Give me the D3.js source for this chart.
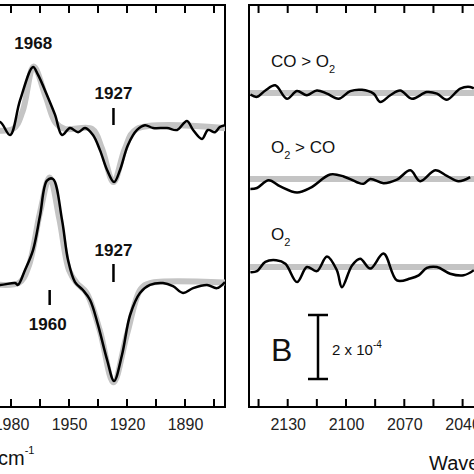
<!DOCTYPE html>
<html><head><meta charset="utf-8">
<script src="https://cdn.jsdelivr.net/npm/d3@7"></script>
<style>body{margin:0;background:#fff}svg{display:block}text{font-family:"Liberation Sans",Arial,sans-serif}</style>
</head><body><div id="chart"></div>
<script>
// values in units of 1e-4 relative to each trace baseline
const leftTop = [[1990,0.1],[1985.7,0.22],[1980.5,-0.19],[1975.3,0.9],[1968.6,1.94],[1966,1.69],[1961.4,1.06],[1957.2,0.44],[1953.6,-0.19],[1949.5,0.03],[1945.3,-0.1],[1941.7,0.03],[1937.6,-0.19],[1934,-0.66],[1930.3,-1.28],[1926.7,-1.66],[1923.6,-1.28],[1919.5,-0.5],[1914.8,-0.03],[1910.7,0.12],[1906.5,0.03],[1899.3,0.03],[1894.1,-0.03],[1889,0.25],[1885.8,-0.03],[1881.2,-0.31],[1878.1,-0.03],[1874.5,-0.1],[1872,0.06],[1869.3,0.12]];
const leftBottom = [[1990,0],[1985.7,-0.06],[1977.9,0],[1976.4,-0.06],[1972.8,0.4],[1968.6,1.03],[1965,2.1],[1961.4,3.2],[1958.3,3.25],[1953.6,1.97],[1950.5,0.72],[1946.9,0.03],[1942.8,-0.22],[1939.1,-0.53],[1935,-1.31],[1930.3,-2.4],[1926.7,-3.06],[1922.6,-2.25],[1918.4,-1.0],[1913.3,-0.31],[1908.1,-0.06],[1901.4,0],[1896.2,-0.1],[1891,-0.31],[1885.8,-0.16],[1878.6,-0.06],[1873.5,-0.16],[1869.3,0.03]];
const fitTop = [[1995,0],[1979,0],[1974,0.55],[1968.3,1.95],[1962,1.0],[1957,0.2],[1952,0],[1938,0],[1933,-0.6],[1927,-1.66],[1921,-0.6],[1915,0],[1865,0]];
const fitBottom = [[1995,0],[1976,0],[1971,0.5],[1965,2.2],[1960,3.3],[1955,2.0],[1950,0.4],[1946,0],[1941,-0.3],[1934,-1.5],[1927,-3.1],[1920,-1.6],[1913,-0.2],[1908,0],[1865,0]];
const rightWn = [2149.2,2145.8,2141.5,2136.4,2130.4,2125.2,2120.1,2115,2109.8,2103.8,2097.8,2091.8,2085.8,2082.4,2077.2,2072.1,2066.1,2058.4,2053.2,2048.1,2041.2,2036.1,2034.2];
const coO2 = [-0.05,-0.12,0.08,0.24,-0.18,0.06,-0.07,0.08,-0.02,-0.18,0.06,0.1,-0.02,-0.28,-0.07,0.08,-0.18,0.03,-0.02,-0.21,0.14,0.19,0.14];
const o2coWn = [2149.2,2145.8,2139.8,2133.8,2125.2,2118.4,2108.1,2101.2,2094.4,2091,2087.5,2080.7,2073.8,2066.9,2061.8,2054.1,2048.1,2042.1,2036.1];
const o2co = [-0.31,-0.28,-0.04,-0.23,-0.42,-0.28,0.14,0.08,-0.1,-0.15,0,-0.13,-0.02,0.27,-0.07,0.27,0.1,-0.07,0.06];
const o2Wn = [2149.2,2145.8,2141.5,2135.9,2131.2,2125.2,2120.1,2115,2109.8,2104.7,2102.1,2096.9,2092.7,2087.5,2080.7,2073.8,2066.9,2062.6,2058.4,2053.2,2046.4,2039.5,2034.2];
const o2 = [-0.16,-0.13,0.16,0.21,0.1,-0.47,0,-0.13,0.33,-0.1,-0.63,0.05,0.26,-0.05,0.42,-0.42,-0.36,-0.26,-0.03,0,-0.21,-0.26,-0.1];
const leftTicks = [1980,1950,1920,1890];
const rightTicks = [2130,2100,2070,2040];

const W = 474, H = 474, pTop = 5, pBot = 407;
const svg = d3.select('#chart').append('svg').attr('width', W).attr('height', H);
const y = d3.scaleLinear().domain([0, (pBot - pTop) / 32]).range([pBot, pTop]);
const xL = d3.scaleLinear().domain([1980, 1890]).range([11, 185]);
const xR = d3.scaleLinear().domain([2130, 2040]).range([287.7, 462.6]);

function panel(x, x0, x1, ticks) {
    svg.append('rect').attr('x', x0).attr('y', pTop).attr('width', x1 - x0).attr('height', pBot - pTop)
    .attr('fill', 'none').attr('stroke', '#000').attr('stroke-width', 2);
    const minor = d3.range(ticks[0] + 60, ticks[3] - 60, -15).filter(v => x(v) > x0 + 2 && x(v) < x1 - 2);
    svg.append('g').attr('transform', `translate(0,${pBot})`)
    .call(d3.axisBottom(x).tickValues(minor).tickSize(0).tickPadding(12).tickFormat(v => ticks.includes(v) ? v : ''))
    .call(g => g.select('.domain').remove())
    .call(g => g.selectAll('text').attr('font-size', 16).attr('fill', '#222').style('font-family', '"Liberation Sans",Arial,sans-serif'));
    minor.forEach(v => {
        svg.append('line').attr('x1', x(v)).attr('x2', x(v)).attr('y1', pBot).attr('y2', pBot - 8).attr('stroke', '#000').attr('stroke-width', 2);
        svg.append('line').attr('x1', x(v)).attr('x2', x(v)).attr('y1', pTop).attr('y2', pTop + 8).attr('stroke', '#000').attr('stroke-width', 2);
    });
}

function trace(x, data, base, clip, color, width) {
    const line = d3.line().curve(d3.curveCatmullRom).x(d => x(d[0])).y(d => y(base + d[1]));
    svg.append('path').datum(data).attr('d', line).attr('clip-path', clip)
    .attr('fill', 'none').attr('stroke', color).attr('stroke-width', width).attr('stroke-linejoin', 'round');
}

const defs = svg.append('defs');
defs.append('clipPath').attr('id', 'cl').append('rect').attr('x', -30).attr('y', pTop).attr('width', 255).attr('height', pBot - pTop);
defs.append('clipPath').attr('id', 'cr').append('rect').attr('x', 250).attr('y', pTop).attr('width', 260).attr('height', pBot - pTop);

panel(xL, -30, 225, leftTicks);
panel(xR, 249, 520, rightTicks);

const bTop = (407 - 129) / 32, bBot = (407 - 283) / 32;
trace(xL, fitTop, bTop, 'url(#cl)', '#c4c4c4', 6);
trace(xL, fitBottom, bBot, 'url(#cl)', '#c4c4c4', 6);
trace(xL, leftTop, bTop, 'url(#cl)', '#000', 2.5);
trace(xL, leftBottom, bBot, 'url(#cl)', '#000', 2.5);

const rBases = [(407 - 93) / 32, (407 - 179) / 32, (407 - 267) / 32];
const rSeries = [[rightWn, coO2], [o2coWn, o2co], [o2Wn, o2]];
rSeries.forEach(([wn, vals], i) => {
    trace(xR, [[2160, 0], [2020, 0]], rBases[i], 'url(#cr)', '#c4c4c4', 6);
    trace(xR, wn.map((w, j) => [w, vals[j]]), rBases[i], 'url(#cr)', '#000', 2.5);
});

// peak labels
const lab = (x, yy, t) => svg.append('text').attr('x', x).attr('y', yy).attr('text-anchor', 'middle')
    .attr('font-size', 17).attr('font-weight', 'bold').attr('fill', '#111').text(t);
const mark = (x, y1, y2) => svg.append('line').attr('x1', x).attr('x2', x).attr('y1', y1).attr('y2', y2).attr('stroke', '#000').attr('stroke-width', 2.5);
lab(xL(1968.5), 49, '1968');
lab(xL(1927), 99, '1927'); mark(xL(1927), 108, 125);
lab(xL(1927), 256, '1927'); mark(xL(1927), 264, 282);
mark(xL(1960), 290, 305); lab(xL(1961), 330, '1960');

const sub = (x, yy, parts) => {
    const t = svg.append('text').attr('x', x).attr('y', yy).attr('font-size', 17).attr('fill', '#111');
    parts.forEach(p => t.append('tspan').attr('font-size', p.s ? 11 : 17).attr('dy', p.dy || 0).text(p.t));
};
sub(271, 67, [{t: 'CO > O'}, {t: '2', s: 1, dy: 6}]);
sub(271, 153, [{t: 'O'}, {t: '2', s: 1, dy: 6}, {t: ' > CO', dy: -6}]);
sub(271, 240, [{t: 'O'}, {t: '2', s: 1, dy: 6}]);

svg.append('text').attr('x', 271).attr('y', 361).attr('font-size', 32).attr('fill', '#111').text('B');
const sb = 318;
mark(sb, 315, 379);
svg.append('line').attr('x1', sb - 10).attr('x2', sb + 10).attr('y1', 315).attr('y2', 315).attr('stroke', '#000').attr('stroke-width', 2.5);
svg.append('line').attr('x1', sb - 10).attr('x2', sb + 10).attr('y1', 379).attr('y2', 379).attr('stroke', '#000').attr('stroke-width', 2.5);
const st = svg.append('text').attr('x', 332).attr('y', 355).attr('font-size', 15).attr('fill', '#111');
st.append('tspan').text('2 x 10');
st.append('tspan').attr('font-size', 10).attr('dy', -7).text('-4');

const ax = svg.append('text').attr('x', -2).attr('y', 465).attr('font-size', 20).attr('fill', '#111');
ax.append('tspan').text('cm');
ax.append('tspan').attr('font-size', 11).attr('dy', -11).text('-1');
svg.append('text').attr('x', 429).attr('y', 470).attr('font-size', 20).attr('fill', '#111').text('Wavenumber');
</script></body></html>
